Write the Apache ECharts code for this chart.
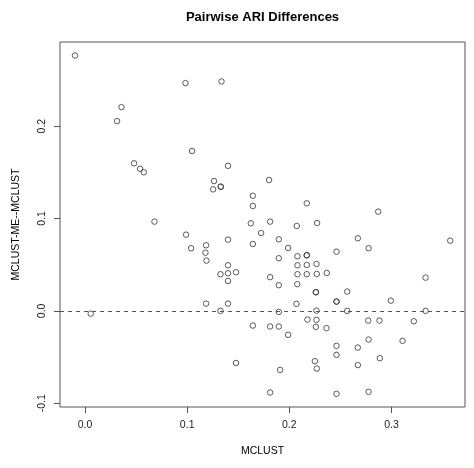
<!DOCTYPE html>
<html>
<head>
<meta charset="utf-8">
<script src="https://cdn.jsdelivr.net/npm/echarts@6/dist/echarts.min.js"></script>
<style>
  html, body { margin: 0; padding: 0; background: #fff; }
  #main { width: 474px; height: 468px; }
</style>
</head>
<body>
<div id="main"></div>
<script>
// x = MCLUST ARI, y = (MCLUST-ME) - MCLUST
var mclust = [
  -0.0098, 0.0983, 0.1336, 0.0357, 0.0314, 0.1048, 0.048, 0.0539, 0.0575, 0.140,
  0.1263, 0.1254, 0.1329, 0.1329, 0.068, 0.0989, 0.1038, 0.0056, 0.1185, 0.1179,
  0.1189, 0.140, 0.140, 0.1326, 0.140, 0.140, 0.1479, 0.1185, 0.140, 0.1326,
  0.1478, 0.1802, 0.1643, 0.1643, 0.2171, 0.1623, 0.1812, 0.2073, 0.2272, 0.1724,
  0.1643, 0.1897, 0.1988, 0.1897, 0.2462, 0.208, 0.2171, 0.2171, 0.208, 0.2171,
  0.2266, 0.208, 0.2171, 0.2269, 0.2367, 0.1812, 0.1897, 0.2078, 0.226, 0.226,
  0.2462, 0.2462, 0.207, 0.1897, 0.2266, 0.2178, 0.2266, 0.226, 0.2364, 0.1643,
  0.1812, 0.1897, 0.1988, 0.2462, 0.2462, 0.225, 0.2269, 0.191, 0.1812, 0.2462,
  0.287, 0.2671, 0.3575, 0.2776, 0.3334, 0.2566, 0.2994, 0.2566, 0.3334, 0.2772,
  0.2883, 0.3219, 0.2776, 0.3109, 0.2671, 0.2886, 0.2671, 0.2776
];
var diff = [
  0.2764, 0.2465, 0.2483, 0.2205, 0.2054, 0.173, 0.1597, 0.1538, 0.15, 0.157,
  0.1405, 0.1315, 0.1344, 0.1344, 0.0966, 0.0825, 0.0678, -0.003, 0.071, 0.063,
  0.0544, 0.0771, 0.0494, 0.0397, 0.0407, 0.0324, 0.0418, 0.0079, 0.0079, 0.0,
  -0.0564, 0.1416, 0.1246, 0.1135, 0.1164, 0.0948, 0.0966, 0.0919, 0.0951, 0.0843,
  0.0724, 0.0775, 0.0681, 0.057, 0.0641, 0.0591, 0.0602, 0.0602, 0.0494, 0.0497,
  0.0508, 0.0397, 0.0397, 0.04, 0.0411, 0.0365, 0.0278, 0.0289, 0.0202, 0.0202,
  0.0101, 0.0101, 0.0076, -0.0011, 0.0003, -0.0094, -0.0097, -0.0173, -0.0187, -0.0159,
  -0.0169, -0.0169, -0.0259, -0.0378, -0.0476, -0.0544, -0.0624, -0.0638, -0.0883, -0.0897,
  0.1074, 0.0786, 0.076, 0.0678, 0.036, 0.0209, 0.0111, 0.0, 0.0, -0.0105,
  -0.0105, -0.0112, -0.031, -0.0324, -0.0397, -0.0512, -0.0587, -0.0876
];
var xTicks = [0, 0.1, 0.2, 0.3];
var yTicks = [-0.1, 0, 0.1, 0.2];
var refLine = 0;

var points = [];
for (var i = 0; i < mclust.length; i++) {
  points.push([mclust[i], diff[i]]);
}

var font = '"Liberation Sans", Arial, sans-serif';
var chart = echarts.init(document.getElementById('main'), null, {renderer: 'canvas'});
chart.setOption({
  animation: false,
  backgroundColor: '#fff',
  graphic: [{
    type: 'text',
    x: 262.5,
    y: 17,
    style: {
      text: 'Pairwise ARI Differences',
      font: 'bold 13px ' + font,
      fill: '#000',
      textAlign: 'center',
      textVerticalAlign: 'middle'
    }
  }],
  grid: {
    left: 60, right: 9, top: 42, bottom: 61,
    show: true,
    borderColor: '#555',
    borderWidth: 1,
    backgroundColor: 'transparent'
  },
  xAxis: {
    type: 'value',
    min: -0.0245,
    max: 0.372,
    name: 'MCLUST',
    nameLocation: 'middle',
    nameGap: 39,
    nameTextStyle: {fontFamily: font, fontSize: 10.5, color: '#000'},
    axisLine: {show: false, onZero: false},
    splitLine: {show: false},
    axisTick: {show: true, customValues: xTicks, length: 6, lineStyle: {color: '#555'}},
    axisLabel: {
      customValues: xTicks, margin: 13,
      fontFamily: font, fontSize: 10.5, color: '#222',
      formatter: function (v) { return v.toFixed(1); }
    }
  },
  yAxis: {
    type: 'value',
    min: -0.104,
    max: 0.291,
    name: 'MCLUST-ME--MCLUST',
    nameLocation: 'middle',
    nameRotate: 90,
    nameGap: 38,
    nameTextStyle: {fontFamily: font, fontSize: 10.5, color: '#000'},
    axisLine: {show: false, onZero: false},
    splitLine: {show: false},
    axisTick: {show: true, customValues: yTicks, length: 6, lineStyle: {color: '#555'}},
    axisLabel: {
      customValues: yTicks, margin: 12, rotate: 90,
      fontFamily: font, fontSize: 10.5, color: '#222',
      formatter: function (v) { return v.toFixed(1); }
    }
  },
  series: [{
    type: 'scatter',
    data: points,
    symbol: 'circle',
    symbolSize: 5.5,
    itemStyle: {color: 'transparent', borderColor: '#333', borderWidth: 1},
    markLine: {
      silent: true,
      symbol: 'none',
      label: {show: false},
      lineStyle: {color: '#555', type: [4, 4], width: 1},
      data: [{yAxis: refLine}]
    }
  }]
});
</script>
</body>
</html>
